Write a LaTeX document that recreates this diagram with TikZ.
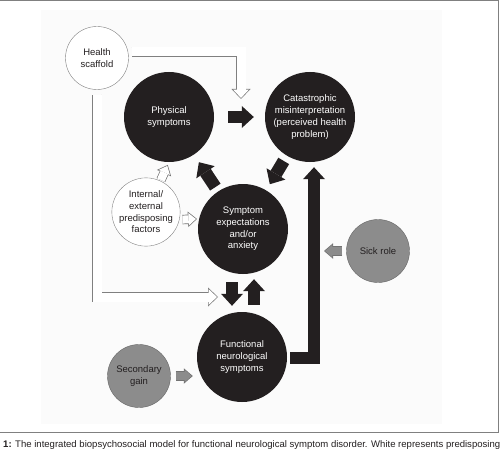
\documentclass[tikz,border=0pt]{standalone}
\usepackage{fontspec}
\setmainfont{Liberation Sans}
\usepackage{xcolor}
\usetikzlibrary{arrows.meta}

\definecolor{ink}{RGB}{35,31,32}
\definecolor{midgrey}{RGB}{140,140,140}

\tikzset{
  darkc/.style={circle, fill=ink, text=white, minimum size=90pt, inner sep=0pt, align=center, font=\fontsize{9.5}{11.7}\selectfont},
  lightc/.style={circle, draw=gray, fill=white, text=ink, minimum size=63pt, inner sep=0pt, align=center, font=\fontsize{9.5}{11.7}\selectfont},
  greyc/.style={lightc, fill=midgrey, draw=black!60},
  fat/.style={draw=ink, line width=12.5pt, line join=miter, -{Triangle[width=22pt,length=12pt,line width=0pt]}},
  bigwhite/.style={draw=gray, line width=10.5pt, line join=miter, -{Triangle[width=19pt,length=10pt,line width=0pt]},
    postaction={draw=white, line width=9pt, -{Triangle[width=15.5pt,length=8.2pt,sep=1.1pt,line width=0pt]}}},
  smallarr/.style={draw=black!55, line width=9.4pt, -{Triangle[width=15.5pt,length=9pt,line width=0pt]},
    postaction={draw=#1, line width=8pt, -{Triangle[width=12.4pt,length=7.2pt,sep=1.1pt,line width=0pt]}}}
}

\begin{document}
\begin{tikzpicture}[x=1pt, y=1pt]
\useasboundingbox (0,0) rectangle (500,448);

% frame and shaded panel
\fill[black!1.5] (41,24) rectangle (442,438);
\draw[gray, line width=1.2pt] (-2,15.7) -- (498.5,15.7) -- (498.5,447.4) -- (-2,447.4);

% circles
\node[lightc] (health) at (97,390) {Health\\scaffold};
\node[darkc] (physical) at (169,331) {Physical\\symptoms};
\node[darkc] (catastrophe) at (310,331) {Catastrophic\\misinterpretation\\(perceived health\\problem)};
\node[lightc] (internal) at (146,236) {Internal/\\external\\predisposing\\factors};
\node[darkc] (expect) at (243,219) {Symptom\\expectations\\and/or\\anxiety};
\node[darkc] (functional) at (242,91) {Functional\\neurological\\symptoms};
\node[greyc] (gain) at (139,72) {Secondary\\gain};
\node[greyc] (sickrole) at (378,197) {Sick role};

\coordinate (hsin) at (241,349);
\coordinate (hsout) at (218,151);
\coordinate (rolein) at (324,197);

% white arrows
\draw[bigwhite] ([xshift=3pt,yshift=6pt]health.east) -| (hsin);
\draw[bigwhite] ([yshift=-5pt]health.south) |- (hsout);
\draw[smallarr=white, shorten <=1pt, shorten >=3pt] (internal.65) -- (physical.270);
\draw[smallarr=white, shorten <=3pt, shorten >=2pt] (internal.-13) -- (expect.167);

% black arrows
\draw[fat, shorten <=14pt, shorten >=11pt] (physical) -- (catastrophe);
\draw[fat, shorten <=6pt, shorten >=7pt] (catastrophe) -- (expect);
\draw[fat, shorten <=5pt, shorten >=9pt] (expect) -- (physical);
\draw[fat, shorten <=8pt, shorten >=6pt] ([xshift=-11pt]expect.south) -- ([xshift=-10pt]functional.north);
\draw[fat, shorten <=7pt, shorten >=5pt] ([xshift=12pt]functional.north) -- ([xshift=11pt]expect.south);
\draw[fat, shorten >=5pt] ([xshift=3pt,yshift=-1pt]functional.east) -| ([xshift=4pt]catastrophe.south);

% grey arrows
\draw[smallarr=midgrey, shorten <=4pt] (sickrole.west) -- (rolein);
\draw[smallarr=midgrey, shorten <=5pt, shorten >=4pt] (gain.east) -- (gain.east -| functional.west);

% caption
\node[anchor=base west, inner sep=0pt, text=ink, font=\fontsize{9.55}{11}\selectfont] (caption) at (3,0.6)
  {\textbf{1:} The integrated biopsychosocial model for functional neurological symptom disorder. White represents predisposing};
\end{tikzpicture}
\end{document}
